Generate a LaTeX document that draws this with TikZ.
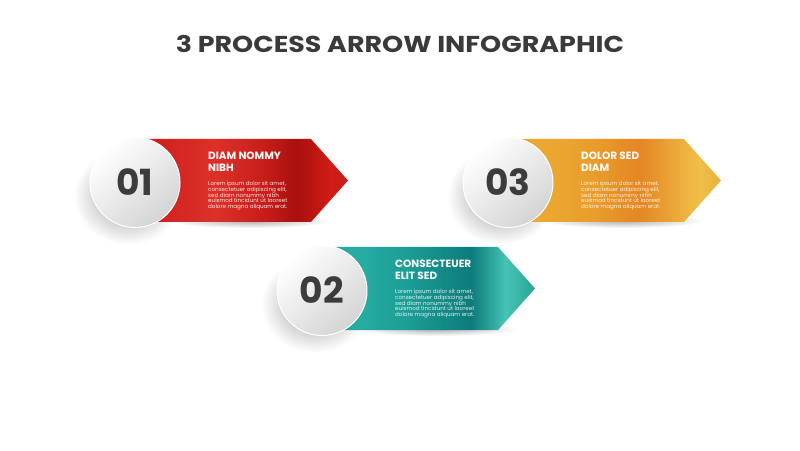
\documentclass[tikz,border=0pt]{standalone}
\usepackage{fontspec}
\setmainfont{Poppins}
\usetikzlibrary{fadings}
\tikzfading[name=softshadow, inner color=transparent!0, outer color=transparent!100]
\definecolor{titlegray}{HTML}{3A3A3A}
\definecolor{numgray}{HTML}{3C3C3C}
\definecolor{circlow}{HTML}{D4D4D4}
\definecolor{rA}{HTML}{C9191C}\definecolor{rB}{HTML}{D42622}\definecolor{rC}{HTML}{DC3129}\definecolor{rD}{HTML}{C81E1B}\definecolor{rE}{HTML}{A8100E}\definecolor{rF}{HTML}{D21C16}
\pgfdeclarehorizontalshading{redsh}{100bp}{color(0bp)=(rA); color(25bp)=(rA); color(35bp)=(rB); color(44bp)=(rC); color(55bp)=(rD); color(63bp)=(rE); color(71bp)=(rF); color(75bp)=(rD); color(100bp)=(rD)}
\definecolor{tA}{HTML}{25AB9F}\definecolor{tB}{HTML}{1C9D95}\definecolor{tC}{HTML}{0D7B7B}\definecolor{tD}{HTML}{45C3B5}\definecolor{tE}{HTML}{2AA598}
\pgfdeclarehorizontalshading{tealsh}{100bp}{color(0bp)=(tA); color(25bp)=(tA); color(35bp)=(tA); color(45bp)=(tB); color(60bp)=(tC); color(68bp)=(tD); color(75bp)=(tE); color(100bp)=(tE)}
\definecolor{oA}{HTML}{EAA830}\definecolor{oB}{HTML}{E99D2C}\definecolor{oC}{HTML}{E48624}\definecolor{oD}{HTML}{F0C048}\definecolor{oE}{HTML}{E8B040}
\pgfdeclarehorizontalshading{orangesh}{100bp}{color(0bp)=(oA); color(25bp)=(oA); color(35bp)=(oA); color(45bp)=(oB); color(56bp)=(oC); color(70bp)=(oD); color(75bp)=(oE); color(100bp)=(oE)}
\tikzset{
  numcirc/.style={circle, minimum size=90, inner sep=0, shade, top color=white, bottom color=circlow, shading angle=40, draw=white, line width=1pt, text=numgray, font=\fontsize{36}{36}\selectfont\bfseries},
  ttl/.style={anchor=base west, inner sep=0, text=white, font=\fontsize{10.5}{12}\selectfont\bfseries},
  bodytxt/.style={anchor=base west, inner sep=0, text=white, text opacity=.88, font=\fontsize{5.6}{6}\selectfont},
  bigtitle/.style={text=titlegray, font=\fontsize{23}{26}\selectfont\bfseries}
}
\newcommand\procstep[7]{%
  \pgfmathsetmacro\cx{#2}\pgfmathsetmacro\cy{#3}%
  \pgfmathsetmacro\tp{\cy+41.5}\pgfmathsetmacro\bt{\cy-41.5}%
  \fill[black, opacity=.30, path fading=softshadow] (\cx+115,\bt+1) ellipse [x radius=80, y radius=7];
  \fill[black, opacity=.42, path fading=softshadow] (\cx-7,\cy-16) ellipse [x radius=54, y radius=48];
  \shade[shading=#4] (\cx,\tp) -- (\cx+176,\tp) -- (\cx+213,\cy) -- (\cx+176,\bt) -- (\cx,\bt) -- cycle;
  \node[numcirc] (#1c) at (\cx,\cy-2) {#5};
  \node[ttl] (#1t1) at (\cx+73,\tp-21) {#6};
  \node[ttl] (#1t2) at (\cx+73,\tp-33) {#7};
  \foreach \l [count=\i] in {{Lorem ipsum dolor sit amet,},{consectetuer adipiscing elit,},{sed diam nonummy nibh},{euismod tincidunt ut laoreet},{dolore magna aliquam erat.}}
    {\node[bodytxt] (#1b\i) at (\cx+73,\tp-46.5-5.8*\i+5.8) {\l};}
}
\begin{document}
\begin{tikzpicture}[x=1pt,y=1pt]
\useasboundingbox (0,0) rectangle (800,450);
\fill[white] (0,0) rectangle (800,450);
\node[bigtitle] (title) at (400,406) {\scalebox{1.17}[1]{3 PROCESS ARROW INFOGRAPHIC}};
\procstep{s1}{135}{269.5}{redsh}{01}{DIAM NOMMY}{NIBH}
\procstep{s3}{508}{269.5}{orangesh}{03}{DOLOR SED}{DIAM}
\procstep{s2}{322}{161.5}{tealsh}{02}{CONSECTEUER}{ELIT SED}
\end{tikzpicture}
\end{document}
